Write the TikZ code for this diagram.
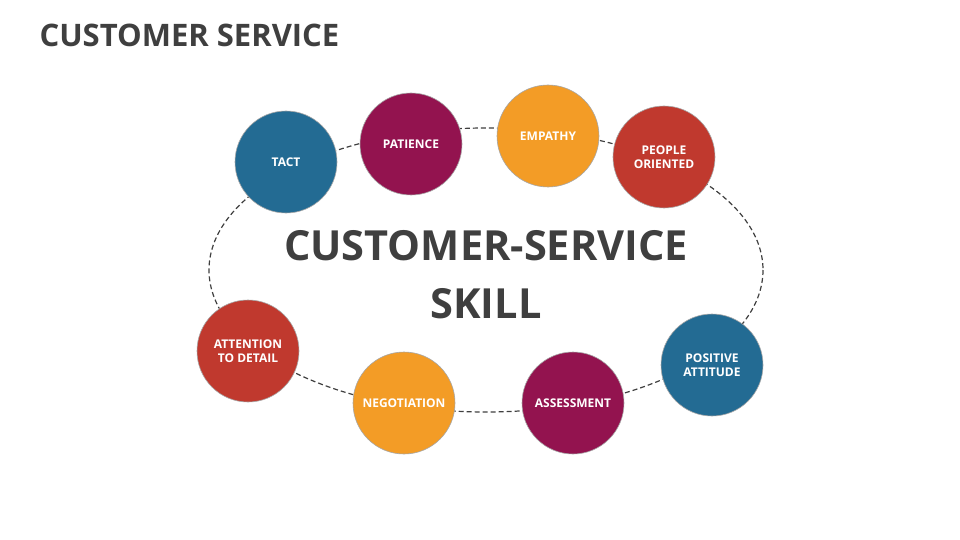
\documentclass[tikz,border=0pt]{standalone}
\usepackage{fontspec}
\setmainfont{Open Sans}
\definecolor{cblue}{HTML}{236B93}
\definecolor{cpurple}{HTML}{93134F}
\definecolor{corange}{HTML}{F39C26}
\definecolor{cred}{HTML}{C0392E}
\definecolor{txt}{HTML}{3F3F3F}
\begin{document}
\begin{tikzpicture}[x=1pt,y=-1pt,
  skill/.style={circle,minimum size=102pt,inner sep=0pt,draw=gray!70,line width=0.6pt,
    text=white,font=\fontsize{12}{14}\selectfont\bfseries,align=center}]
\useasboundingbox (0,0) rectangle (960,540);
\node[anchor=west,text=txt,font=\fontsize{31}{34}\selectfont\bfseries] (title) at (36,35) {CUSTOMER SERVICE};
\draw[dashed,line width=1.2pt,txt,dash pattern=on 5pt off 3pt] (486,270) ellipse [x radius=277,y radius=142];
\node[text=txt,font=\fontsize{41.5}{58}\selectfont\bfseries,align=center] (center) at (486,275) {CUSTOMER-SERVICE\\SKILL};
\node[skill,fill=cblue] (tact) at (286,162) {TACT};
\node[skill,fill=cpurple] (pat) at (411,144) {PATIENCE};
\node[skill,fill=corange] (emp) at (548,136) {EMPATHY};
\node[skill,fill=cred] (peo) at (664,157) {PEOPLE\\ORIENTED};
\node[skill,fill=cred] (att) at (248,351) {ATTENTION\\TO DETAIL};
\node[skill,fill=corange] (neg) at (404,403) {NEGOTIATION};
\node[skill,fill=cpurple] (ass) at (573,403) {ASSESSMENT};
\node[skill,fill=cblue] (pos) at (712,365) {POSITIVE\\ATTITUDE};
\end{tikzpicture}
\end{document}
